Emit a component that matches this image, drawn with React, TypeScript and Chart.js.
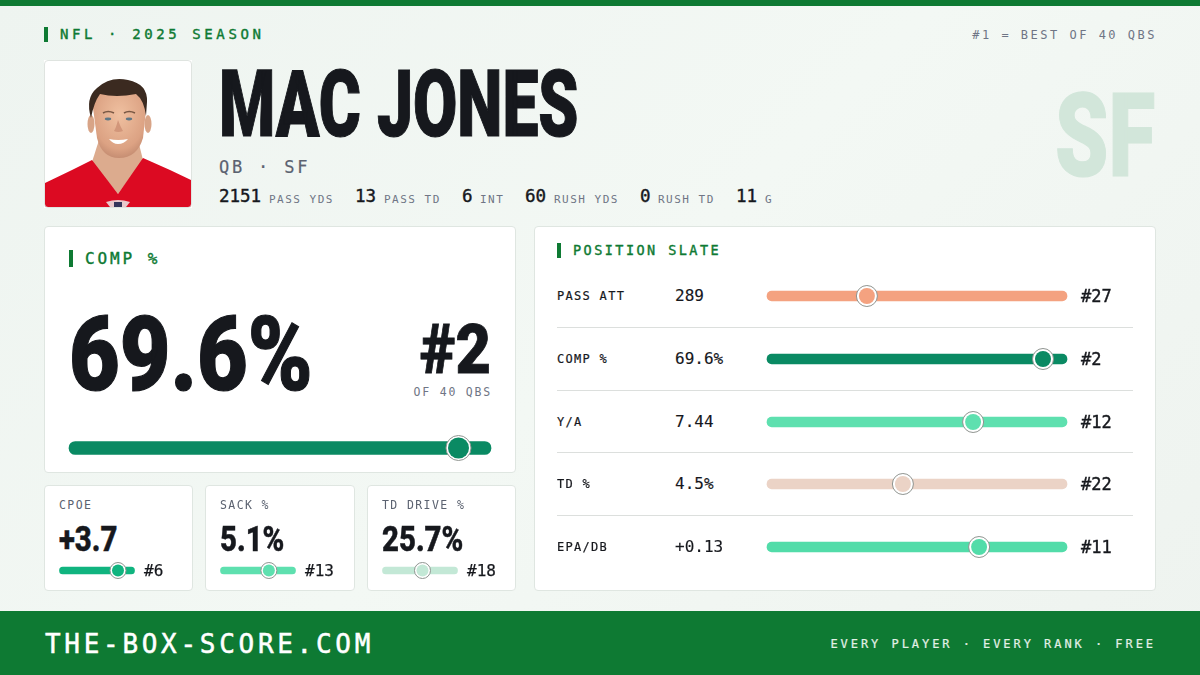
import { useEffect, useRef } from 'react';
import type { CSSProperties } from 'react';
import { Chart, registerables } from 'chart.js';

Chart.register(...registerables);

// player line
const statValues = ['2151', '13', '6', '60', '0', '11'];
const statLabels = ['PASS YDS', 'PASS TD', 'INT', 'RUSH YDS', 'RUSH TD', 'G'];

// small cards
const cardLabels = ['CPOE', 'SACK %', 'TD DRIVE %'];
const cardValues = ['+3.7', '5.1%', '25.7%'];
const cardRanks = ['#6', '#13', '#18'];
const cardPositions = [78, 64.5, 53.3];
const cardColors = ['#10b47f', '#5ee0af', '#c3e8d6'];

// position slate rows
const slateLabels = ['PASS ATT', 'COMP %', 'Y/A', 'TD %', 'EPA/DB'];
const slateValues = ['289', '69.6%', '7.44', '4.5%', '+0.13'];
const slateRanks = ['#27', '#2', '#12', '#22', '#11'];
const slatePositions = [33.3, 92, 68.7, 45.3, 70.7];
const slateColors = ['#f4a280', '#0a8a63', '#5ee0af', '#ebd3c6', '#52dca9'];

// hero metric
const heroPosition = 92.3;
const heroColor = '#0a8a63';

const MONO = '"DejaVu Sans Mono", monospace';
const HEAD = 'Roboto, sans-serif';
const GREEN = '#0e7a33';
const INK = '#16181d';
const MUTED = '#6f7585';

type SliderProps = {
  name: string;
  position: number;
  color: string;
  x: number;
  width: number;
  cy: number;
  barHeight: number;
  ringRadius: number;
  dotRadius: number;
};

function Slider({ name, position, color, x, width, cy, barHeight, ringRadius, dotRadius }: SliderProps) {
  const canvasRef = useRef<HTMLCanvasElement>(null);
  const pad = ringRadius + 4;
  const h = pad * 2;

  useEffect(() => {
    if (!canvasRef.current) return;
    const chart = new Chart(canvasRef.current, {
      type: 'bar',
      data: {
        labels: [name],
        datasets: [
          {
            type: 'scatter',
            data: [{ x: position, y: name }],
            order: 1,
            clip: false,
            pointRadius: dotRadius,
            pointBackgroundColor: color,
            pointBorderWidth: 0,
          },
          {
            type: 'scatter',
            data: [{ x: position, y: name }],
            order: 2,
            clip: false,
            pointRadius: ringRadius - 0.5,
            pointBackgroundColor: '#ffffff',
            pointBorderColor: '#8f9490',
            pointBorderWidth: 1,
          },
          {
            type: 'bar',
            data: [100],
            order: 3,
            clip: false,
            backgroundColor: color,
            barThickness: barHeight,
            borderRadius: barHeight / 2,
            borderSkipped: false,
          },
        ],
      } as any,
      options: {
        indexAxis: 'y',
        responsive: false,
        animation: false,
        events: [],
        datasets: { scatter: { indexAxis: 'x' } },
        layout: { padding: { left: pad, right: pad } },
        plugins: { legend: { display: false }, tooltip: { enabled: false } },
        scales: {
          x: { type: 'linear', min: 0, max: 100, display: false },
          y: { type: 'category', labels: [name], display: false },
        },
      } as any,
    });
    return () => chart.destroy();
  }, []);

  return (
    <canvas
      ref={canvasRef}
      width={width + pad * 2}
      height={h}
      style={{ position: 'absolute', left: x - pad, top: cy - h / 2, width: width + pad * 2, height: h }}
    />
  );
}

type TextProps = {
  children: string;
  x?: number;
  right?: number;
  cy: number;
  size: number;
  color?: string;
  spacing?: number;
  weight?: number;
  font?: string;
  scale?: number;
  stroke?: number;
};

function T({ children, x, right, cy, size, color = INK, spacing = 0, weight = 400, font = MONO, scale = 1, stroke = 0 }: TextProps) {
  const style: CSSProperties = {
    position: 'absolute',
    top: cy,
    fontFamily: font,
    fontSize: size,
    lineHeight: font === HEAD ? 0.72 : 1,
    fontWeight: weight,
    color,
    letterSpacing: spacing,
    whiteSpace: 'pre',
    WebkitTextStroke: stroke ? `${stroke}px ${color}` : undefined,
    transform: `translateY(-50%) scaleX(${scale})`,
    transformOrigin: right !== undefined ? 'right center' : 'left center',
  };
  return <div style={right !== undefined ? { ...style, right: 1200 - right } : { ...style, left: x }}>{children}</div>;
}

function Box({ x, y, w, h, bg, border, radius }: { x: number; y: number; w: number; h: number; bg: string; border?: string; radius?: number }) {
  return (
    <div
      style={{
        position: 'absolute',
        left: x,
        top: y,
        width: w,
        height: h,
        background: bg,
        border: border ? `1px solid ${border}` : undefined,
        borderRadius: radius,
        boxSizing: 'border-box',
      }}
    />
  );
}

function Portrait() {
  return (
    <svg width={148} height={148} viewBox="44 60 148 148" style={{ position: 'absolute', left: 44, top: 60, borderRadius: 4 }}>
      <defs>
        <radialGradient id="skin" cx="0.5" cy="0.38" r="0.7">
          <stop offset="0" stopColor="#efc0a0" />
          <stop offset="0.7" stopColor="#dca283" />
          <stop offset="1" stopColor="#b98269" />
        </radialGradient>
      </defs>
      <path d="M99 140 L138 140 L143 160 L118 194 L92 162 Z" fill="#dcab8e" />
      <path d="M45 183 L72 170 L92 160 L118 194 L143 158 L170 170 L191 180 L191 207 L45 207 Z" fill="#dc0a22" />
      <ellipse cx="91" cy="124" rx="3.5" ry="9" fill="#d8a487" />
      <ellipse cx="148" cy="124" rx="3.5" ry="9" fill="#d8a487" />
      <path d="M93 108 Q94 88 118 88 Q146 88 146 110 L143 138 Q137 158 119 158 Q102 158 97 138 Z" fill="url(#skin)" />
      <path d="M91 118 Q85 98 97 88 Q110 76 128 80 Q148 84 147 102 L146 116 Q144 100 136 94 Q116 98 100 94 Q94 102 91 118 Z" fill="#3b2a20" />
      <path d="M103 113 Q108 110 114 113" stroke="#7a5844" strokeWidth="1.6" fill="none" />
      <path d="M124 113 Q129 110 135 113" stroke="#7a5844" strokeWidth="1.6" fill="none" />
      <ellipse cx="108" cy="119" rx="3.2" ry="1.4" fill="#5d7685" />
      <ellipse cx="129" cy="119" rx="3.2" ry="1.4" fill="#5d7685" />
      <path d="M118 120 Q116 128 114 131 Q118 133 123 131 Q120 126 118 120" fill="#d2967a" />
      <path d="M109 139 Q118 141 128 139 Q124 144 118 144 Q113 144 109 139 Z" fill="#ffffff" />
      <path d="M106 202 Q118 198 130 202 L126 207 L110 207 Z" fill="#e9c9cc" />
      <rect x="114" y="202" width="8" height="5" fill="#33355c" />
    </svg>
  );
}

const statValueX = [219, 355, 462, 525, 640, 736];
const statLabelX = [269, 384, 480, 554, 658, 765];
const cardX = [44, 205, 367];
const cardW = [149, 150, 149];
const cardTrackX = [59, 220, 382];
const cardRankX = [144, 305, 467];
const slateY = [296, 359, 422, 484, 547];
const dividerY = [327, 390, 452, 515];

export default function App() {
  useEffect(() => {
    document.body.style.margin = '0';
  }, []);

  return (
    <div
      style={{
        position: 'relative',
        width: 1200,
        height: 675,
        overflow: 'hidden',
        background: 'linear-gradient(135deg, #eef4f0 0%, #f3f8f4 50%, #eef3ef 100%)',
      }}
    >
      <Box x={0} y={0} w={1200} h={6} bg={GREEN} />

      <Box x={44} y={27} w={4} h={15} bg={GREEN} />
      <T x={60} cy={34} size={14} color={GREEN} spacing={3.6} stroke={0.4}>NFL · 2025 SEASON</T>
      <T right={1157} cy={35} size={12} color={MUTED} spacing={2.5}>#1 = BEST OF 40 QBS</T>

      <Box x={44} y={60} w={148} h={148} bg="#ffffff" />
      <Portrait />
      <Box x={44} y={60} w={148} h={148} bg="transparent" border="#dfe4e0" radius={4} />

      <T x={219} cy={105} size={93} weight={900} font={HEAD} scale={0.69} stroke={1.2}>MAC JONES</T>
      <T x={219} cy={167} size={17} color="#5b6270" spacing={2.8} stroke={0.2}>QB · SF</T>
      <T right={1155} cy={136} size={117} weight={900} font={HEAD} color="#d2e6da" scale={0.73} stroke={1.2}>SF</T>

      {statValues.map((v, i) => (
        <T key={statLabels[i]} x={statValueX[i]} cy={197} size={17.5} stroke={0.4}>{v}</T>
      ))}
      {statLabels.map((l, i) => (
        <T key={l} x={statLabelX[i]} cy={199} size={11} color={MUTED} spacing={1.5}>{l}</T>
      ))}

      {/* hero card */}
      <Box x={44} y={226} w={472} h={247} bg="#ffffff" border="#dfe6e1" radius={4} />
      <Box x={69} y={250} w={4} h={17} bg={GREEN} />
      <T x={85} cy={259} size={16} color={GREEN} spacing={2.9} stroke={0.4}>COMP %</T>
      <T x={69} cy={355} size={103} weight={900} font={HEAD} scale={0.85} stroke={1.2}>69.6%</T>
      <T right={491} cy={350} size={68} weight={900} font={HEAD} scale={0.9} stroke={0.8}>#2</T>
      <T right={492} cy={393} size={11.5} color={MUTED} spacing={1.8}>OF 40 QBS</T>
      <Slider name="COMP %" position={heroPosition} color={heroColor} x={69} width={422} cy={447.5} barHeight={13} ringRadius={13} dotRadius={10.5} />

      {/* small cards */}
      {cardLabels.map((l, i) => (
        <div key={l}>
          <Box x={cardX[i]} y={485} w={cardW[i]} h={106} bg="#ffffff" border="#dfe6e1" radius={4} />
          <T x={cardTrackX[i]} cy={506} size={11.5} color="#5b6270" spacing={1.4}>{l}</T>
          <T x={cardTrackX[i]} cy={540} size={35} weight={800} font={HEAD} scale={0.84} stroke={0.5}>{cardValues[i]}</T>
          <Slider name={l} position={cardPositions[i]} color={cardColors[i]} x={cardTrackX[i]} width={75} cy={570.5} barHeight={7} ringRadius={8.5} dotRadius={6} />
          <T x={cardRankX[i]} cy={571} size={16} stroke={0.25}>{cardRanks[i]}</T>
        </div>
      ))}

      {/* position slate */}
      <Box x={534} y={226} w={622} h={365} bg="#ffffff" border="#dfe6e1" radius={4} />
      <Box x={557} y={243} w={4} h={15} bg={GREEN} />
      <T x={573} cy={251} size={13.5} color={GREEN} spacing={2.45} stroke={0.4}>POSITION SLATE</T>
      {dividerY.map((y) => (
        <Box key={y} x={557} y={y} w={576} h={1} bg="#dcdfdd" />
      ))}
      {slateLabels.map((l, i) => (
        <div key={l}>
          <T x={557} cy={slateY[i]} size={12} spacing={1.3} stroke={0.2}>{l}</T>
          <T x={675} cy={slateY[i]} size={16} stroke={0.15}>{slateValues[i]}</T>
          <Slider name={l} position={slatePositions[i]} color={slateColors[i]} x={767} width={300} cy={slateY[i]} barHeight={10} ringRadius={11} dotRadius={8} />
          <T x={1081} cy={slateY[i]} size={17} stroke={0.4}>{slateRanks[i]}</T>
        </div>
      ))}

      {/* footer */}
      <Box x={0} y={611} w={1200} h={64} bg={GREEN} />
      <T x={45} cy={644} size={26} color="#ffffff" spacing={3.7} stroke={0.5}>THE-BOX-SCORE.COM</T>
      <T right={1156} cy={644} size={12} color="#e3f0e7" spacing={2.95} stroke={0.2}>EVERY PLAYER · EVERY RANK · FREE</T>
    </div>
  );
}
